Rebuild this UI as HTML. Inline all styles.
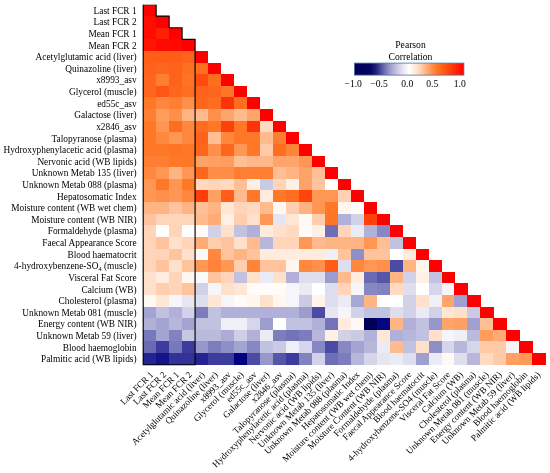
<!DOCTYPE html><html><head><meta charset="utf-8"><title>Pearson Correlation</title>
<style>html,body{margin:0;padding:0;background:#fff}svg{display:block}text{font-family:"Liberation Serif","DejaVu Serif",serif;fill:#000}</style></head><body>
<svg width="550" height="473" viewBox="0 0 550 473">
<rect width="550" height="473" fill="#fff"/>
<defs><linearGradient id="cb" x1="0" x2="1" y1="0" y2="0">
<stop offset="0.000" stop-color="#000055"/>
<stop offset="0.150" stop-color="#050564"/>
<stop offset="0.200" stop-color="#23237d"/>
<stop offset="0.250" stop-color="#5555a0"/>
<stop offset="0.300" stop-color="#8787be"/>
<stop offset="0.350" stop-color="#afacd4"/>
<stop offset="0.400" stop-color="#d0cce6"/>
<stop offset="0.450" stop-color="#ebe8f4"/>
<stop offset="0.500" stop-color="#ffffff"/>
<stop offset="0.550" stop-color="#ffecde"/>
<stop offset="0.600" stop-color="#ffd4b8"/>
<stop offset="0.650" stop-color="#ffb484"/>
<stop offset="0.700" stop-color="#ff9654"/>
<stop offset="0.750" stop-color="#ff7828"/>
<stop offset="0.800" stop-color="#ff621a"/>
<stop offset="0.850" stop-color="#ff4b10"/>
<stop offset="0.900" stop-color="#ff3309"/>
<stop offset="0.950" stop-color="#ff1a03"/>
<stop offset="1.000" stop-color="#ff0000"/>
</linearGradient></defs>
<g shape-rendering="crispEdges">
<rect x="143.20" y="4.50" width="13.27" height="11.92" fill="#ff0000"/>
<rect x="143.20" y="16.12" width="13.27" height="11.92" fill="#ff0d02"/>
<rect x="156.17" y="16.12" width="13.27" height="11.92" fill="#ff0000"/>
<rect x="143.20" y="27.74" width="13.27" height="11.92" fill="#ff0d02"/>
<rect x="156.17" y="27.74" width="13.27" height="11.92" fill="#ff1f04"/>
<rect x="169.14" y="27.74" width="13.27" height="11.92" fill="#ff0000"/>
<rect x="143.20" y="39.36" width="13.27" height="11.92" fill="#ff1502"/>
<rect x="156.17" y="39.36" width="13.27" height="11.92" fill="#ff0a01"/>
<rect x="169.14" y="39.36" width="13.27" height="11.92" fill="#ff0a01"/>
<rect x="182.11" y="39.36" width="13.27" height="11.92" fill="#ff0000"/>
<rect x="143.20" y="50.98" width="13.27" height="11.92" fill="#ff5d18"/>
<rect x="156.17" y="50.98" width="13.27" height="11.92" fill="#ff5d18"/>
<rect x="169.14" y="50.98" width="13.27" height="11.92" fill="#ff5d18"/>
<rect x="182.11" y="50.98" width="13.27" height="11.92" fill="#ff621a"/>
<rect x="195.08" y="50.98" width="13.27" height="11.92" fill="#ff0000"/>
<rect x="143.20" y="62.60" width="13.27" height="11.92" fill="#ff621a"/>
<rect x="156.17" y="62.60" width="13.27" height="11.92" fill="#ff661d"/>
<rect x="169.14" y="62.60" width="13.27" height="11.92" fill="#ff621a"/>
<rect x="182.11" y="62.60" width="13.27" height="11.92" fill="#ff6d21"/>
<rect x="195.08" y="62.60" width="13.27" height="11.92" fill="#ff6d21"/>
<rect x="208.05" y="62.60" width="13.27" height="11.92" fill="#ff0000"/>
<rect x="143.20" y="74.22" width="13.27" height="11.92" fill="#ff661d"/>
<rect x="156.17" y="74.22" width="13.27" height="11.92" fill="#ff7e31"/>
<rect x="169.14" y="74.22" width="13.27" height="11.92" fill="#ff621a"/>
<rect x="182.11" y="74.22" width="13.27" height="11.92" fill="#ff7425"/>
<rect x="195.08" y="74.22" width="13.27" height="11.92" fill="#ff4b10"/>
<rect x="208.05" y="74.22" width="13.27" height="11.92" fill="#ff6d21"/>
<rect x="221.02" y="74.22" width="13.27" height="11.92" fill="#ff0000"/>
<rect x="143.20" y="85.84" width="13.27" height="11.92" fill="#ff661d"/>
<rect x="156.17" y="85.84" width="13.27" height="11.92" fill="#ff5615"/>
<rect x="169.14" y="85.84" width="13.27" height="11.92" fill="#ff661d"/>
<rect x="182.11" y="85.84" width="13.27" height="11.92" fill="#ff6d21"/>
<rect x="195.08" y="85.84" width="13.27" height="11.92" fill="#ff621a"/>
<rect x="208.05" y="85.84" width="13.27" height="11.92" fill="#ff661d"/>
<rect x="221.02" y="85.84" width="13.27" height="11.92" fill="#ff7425"/>
<rect x="233.99" y="85.84" width="13.27" height="11.92" fill="#ff0000"/>
<rect x="143.20" y="97.46" width="13.27" height="11.92" fill="#ff7828"/>
<rect x="156.17" y="97.46" width="13.27" height="11.92" fill="#ff873e"/>
<rect x="169.14" y="97.46" width="13.27" height="11.92" fill="#ff7e31"/>
<rect x="182.11" y="97.46" width="13.27" height="11.92" fill="#ff904b"/>
<rect x="195.08" y="97.46" width="13.27" height="11.92" fill="#ff661d"/>
<rect x="208.05" y="97.46" width="13.27" height="11.92" fill="#ff6d21"/>
<rect x="221.02" y="97.46" width="13.27" height="11.92" fill="#ff3309"/>
<rect x="233.99" y="97.46" width="13.27" height="11.92" fill="#ff6d21"/>
<rect x="246.96" y="97.46" width="13.27" height="11.92" fill="#ff0000"/>
<rect x="143.20" y="109.08" width="13.27" height="11.92" fill="#ff7e31"/>
<rect x="156.17" y="109.08" width="13.27" height="11.92" fill="#ff9c5e"/>
<rect x="169.14" y="109.08" width="13.27" height="11.92" fill="#ff904b"/>
<rect x="182.11" y="109.08" width="13.27" height="11.92" fill="#ffb484"/>
<rect x="195.08" y="109.08" width="13.27" height="11.92" fill="#ffba8e"/>
<rect x="208.05" y="109.08" width="13.27" height="11.92" fill="#ff904b"/>
<rect x="221.02" y="109.08" width="13.27" height="11.92" fill="#ffa56c"/>
<rect x="233.99" y="109.08" width="13.27" height="11.92" fill="#ffba8e"/>
<rect x="246.96" y="109.08" width="13.27" height="11.92" fill="#ffa56c"/>
<rect x="259.93" y="109.08" width="13.27" height="11.92" fill="#ff0000"/>
<rect x="143.20" y="120.70" width="13.27" height="11.92" fill="#ff7828"/>
<rect x="156.17" y="120.70" width="13.27" height="11.92" fill="#ff9654"/>
<rect x="169.14" y="120.70" width="13.27" height="11.92" fill="#ff6d21"/>
<rect x="182.11" y="120.70" width="13.27" height="11.92" fill="#ff873e"/>
<rect x="195.08" y="120.70" width="13.27" height="11.92" fill="#ff6d21"/>
<rect x="208.05" y="120.70" width="13.27" height="11.92" fill="#ff7828"/>
<rect x="221.02" y="120.70" width="13.27" height="11.92" fill="#ff3f0c"/>
<rect x="233.99" y="120.70" width="13.27" height="11.92" fill="#ff7828"/>
<rect x="246.96" y="120.70" width="13.27" height="11.92" fill="#ff3309"/>
<rect x="259.93" y="120.70" width="13.27" height="11.92" fill="#ffd9c0"/>
<rect x="272.90" y="120.70" width="13.27" height="11.92" fill="#ff0000"/>
<rect x="143.20" y="132.32" width="13.27" height="11.92" fill="#ff7828"/>
<rect x="156.17" y="132.32" width="13.27" height="11.92" fill="#ff873e"/>
<rect x="169.14" y="132.32" width="13.27" height="11.92" fill="#ff9654"/>
<rect x="182.11" y="132.32" width="13.27" height="11.92" fill="#ff873e"/>
<rect x="195.08" y="132.32" width="13.27" height="11.92" fill="#ff621a"/>
<rect x="208.05" y="132.32" width="13.27" height="11.92" fill="#ffbe94"/>
<rect x="221.02" y="132.32" width="13.27" height="11.92" fill="#ff873e"/>
<rect x="233.99" y="132.32" width="13.27" height="11.92" fill="#ff7828"/>
<rect x="246.96" y="132.32" width="13.27" height="11.92" fill="#ff7828"/>
<rect x="259.93" y="132.32" width="13.27" height="11.92" fill="#ffba8e"/>
<rect x="272.90" y="132.32" width="13.27" height="11.92" fill="#ff7e31"/>
<rect x="285.87" y="132.32" width="13.27" height="11.92" fill="#ff0000"/>
<rect x="143.20" y="143.94" width="13.27" height="11.92" fill="#ff7828"/>
<rect x="156.17" y="143.94" width="13.27" height="11.92" fill="#ff7828"/>
<rect x="169.14" y="143.94" width="13.27" height="11.92" fill="#ff7425"/>
<rect x="182.11" y="143.94" width="13.27" height="11.92" fill="#ff7828"/>
<rect x="195.08" y="143.94" width="13.27" height="11.92" fill="#ff661d"/>
<rect x="208.05" y="143.94" width="13.27" height="11.92" fill="#ff904b"/>
<rect x="221.02" y="143.94" width="13.27" height="11.92" fill="#ff661d"/>
<rect x="233.99" y="143.94" width="13.27" height="11.92" fill="#ff9654"/>
<rect x="246.96" y="143.94" width="13.27" height="11.92" fill="#ff7828"/>
<rect x="259.93" y="143.94" width="13.27" height="11.92" fill="#ffcaa8"/>
<rect x="272.90" y="143.94" width="13.27" height="11.92" fill="#ff6d21"/>
<rect x="285.87" y="143.94" width="13.27" height="11.92" fill="#ff843a"/>
<rect x="298.84" y="143.94" width="13.27" height="11.92" fill="#ff0000"/>
<rect x="143.20" y="155.56" width="13.27" height="11.92" fill="#ff7e31"/>
<rect x="156.17" y="155.56" width="13.27" height="11.92" fill="#ff7e31"/>
<rect x="169.14" y="155.56" width="13.27" height="11.92" fill="#ff7828"/>
<rect x="182.11" y="155.56" width="13.27" height="11.92" fill="#ff7828"/>
<rect x="195.08" y="155.56" width="13.27" height="11.92" fill="#ffa267"/>
<rect x="208.05" y="155.56" width="13.27" height="11.92" fill="#ff9f62"/>
<rect x="221.02" y="155.56" width="13.27" height="11.92" fill="#ff9c5e"/>
<rect x="233.99" y="155.56" width="13.27" height="11.92" fill="#ffbe94"/>
<rect x="246.96" y="155.56" width="13.27" height="11.92" fill="#ffb789"/>
<rect x="259.93" y="155.56" width="13.27" height="11.92" fill="#ffb789"/>
<rect x="272.90" y="155.56" width="13.27" height="11.92" fill="#ffa56c"/>
<rect x="285.87" y="155.56" width="13.27" height="11.92" fill="#ffa56c"/>
<rect x="298.84" y="155.56" width="13.27" height="11.92" fill="#ff9654"/>
<rect x="311.81" y="155.56" width="13.27" height="11.92" fill="#ff0000"/>
<rect x="143.20" y="167.18" width="13.27" height="11.92" fill="#ff873e"/>
<rect x="156.17" y="167.18" width="13.27" height="11.92" fill="#ff9654"/>
<rect x="169.14" y="167.18" width="13.27" height="11.92" fill="#ffb484"/>
<rect x="182.11" y="167.18" width="13.27" height="11.92" fill="#ff9654"/>
<rect x="195.08" y="167.18" width="13.27" height="11.92" fill="#ff661d"/>
<rect x="208.05" y="167.18" width="13.27" height="11.92" fill="#ff8d47"/>
<rect x="221.02" y="167.18" width="13.27" height="11.92" fill="#ff8d47"/>
<rect x="233.99" y="167.18" width="13.27" height="11.92" fill="#ff7e31"/>
<rect x="246.96" y="167.18" width="13.27" height="11.92" fill="#ff7e31"/>
<rect x="259.93" y="167.18" width="13.27" height="11.92" fill="#ff7e31"/>
<rect x="272.90" y="167.18" width="13.27" height="11.92" fill="#ffbe94"/>
<rect x="285.87" y="167.18" width="13.27" height="11.92" fill="#ffb484"/>
<rect x="298.84" y="167.18" width="13.27" height="11.92" fill="#ffa267"/>
<rect x="311.81" y="167.18" width="13.27" height="11.92" fill="#ffbe94"/>
<rect x="324.78" y="167.18" width="13.27" height="11.92" fill="#ff0000"/>
<rect x="143.20" y="178.80" width="13.27" height="11.92" fill="#ff9654"/>
<rect x="156.17" y="178.80" width="13.27" height="11.92" fill="#ff7828"/>
<rect x="169.14" y="178.80" width="13.27" height="11.92" fill="#ff9654"/>
<rect x="182.11" y="178.80" width="13.27" height="11.92" fill="#ff7828"/>
<rect x="195.08" y="178.80" width="13.27" height="11.92" fill="#ffd9c0"/>
<rect x="208.05" y="178.80" width="13.27" height="11.92" fill="#ffd4b8"/>
<rect x="221.02" y="178.80" width="13.27" height="11.92" fill="#ffd9c0"/>
<rect x="233.99" y="178.80" width="13.27" height="11.92" fill="#ffbe94"/>
<rect x="246.96" y="178.80" width="13.27" height="11.92" fill="#fff0e5"/>
<rect x="259.93" y="178.80" width="13.27" height="11.92" fill="#cacae5"/>
<rect x="272.90" y="178.80" width="13.27" height="11.92" fill="#ffd4b8"/>
<rect x="285.87" y="178.80" width="13.27" height="11.92" fill="#fff0e5"/>
<rect x="298.84" y="178.80" width="13.27" height="11.92" fill="#ffa267"/>
<rect x="311.81" y="178.80" width="13.27" height="11.92" fill="#ffc49e"/>
<rect x="324.78" y="178.80" width="13.27" height="11.92" fill="#ffffff"/>
<rect x="337.75" y="178.80" width="13.27" height="11.92" fill="#ff0000"/>
<rect x="143.20" y="190.42" width="13.27" height="11.92" fill="#ff9654"/>
<rect x="156.17" y="190.42" width="13.27" height="11.92" fill="#ff904b"/>
<rect x="169.14" y="190.42" width="13.27" height="11.92" fill="#ff9654"/>
<rect x="182.11" y="190.42" width="13.27" height="11.92" fill="#ff873e"/>
<rect x="195.08" y="190.42" width="13.27" height="11.92" fill="#ff3d0c"/>
<rect x="208.05" y="190.42" width="13.27" height="11.92" fill="#ff9f62"/>
<rect x="221.02" y="190.42" width="13.27" height="11.92" fill="#ff5d18"/>
<rect x="233.99" y="190.42" width="13.27" height="11.92" fill="#ffba8e"/>
<rect x="246.96" y="190.42" width="13.27" height="11.92" fill="#ff7828"/>
<rect x="259.93" y="190.42" width="13.27" height="11.92" fill="#ffecde"/>
<rect x="272.90" y="190.42" width="13.27" height="11.92" fill="#ff7828"/>
<rect x="285.87" y="190.42" width="13.27" height="11.92" fill="#ff6d21"/>
<rect x="298.84" y="190.42" width="13.27" height="11.92" fill="#ff440e"/>
<rect x="311.81" y="190.42" width="13.27" height="11.92" fill="#ff9654"/>
<rect x="324.78" y="190.42" width="13.27" height="11.92" fill="#ff9654"/>
<rect x="337.75" y="190.42" width="13.27" height="11.92" fill="#ffd1b3"/>
<rect x="350.72" y="190.42" width="13.27" height="11.92" fill="#ff0000"/>
<rect x="143.20" y="202.04" width="13.27" height="11.92" fill="#ffb484"/>
<rect x="156.17" y="202.04" width="13.27" height="11.92" fill="#ffb484"/>
<rect x="169.14" y="202.04" width="13.27" height="11.92" fill="#ffc49e"/>
<rect x="182.11" y="202.04" width="13.27" height="11.92" fill="#ffb484"/>
<rect x="195.08" y="202.04" width="13.27" height="11.92" fill="#ffbe94"/>
<rect x="208.05" y="202.04" width="13.27" height="11.92" fill="#ffb484"/>
<rect x="221.02" y="202.04" width="13.27" height="11.92" fill="#ffe7d6"/>
<rect x="233.99" y="202.04" width="13.27" height="11.92" fill="#ffd4b8"/>
<rect x="246.96" y="202.04" width="13.27" height="11.92" fill="#ffd9c0"/>
<rect x="259.93" y="202.04" width="13.27" height="11.92" fill="#ffba8e"/>
<rect x="272.90" y="202.04" width="13.27" height="11.92" fill="#fff7f2"/>
<rect x="285.87" y="202.04" width="13.27" height="11.92" fill="#ffceae"/>
<rect x="298.84" y="202.04" width="13.27" height="11.92" fill="#ffb17f"/>
<rect x="311.81" y="202.04" width="13.27" height="11.92" fill="#ff9654"/>
<rect x="324.78" y="202.04" width="13.27" height="11.92" fill="#ff7828"/>
<rect x="337.75" y="202.04" width="13.27" height="11.92" fill="#fff6ee"/>
<rect x="350.72" y="202.04" width="13.27" height="11.92" fill="#fffbf8"/>
<rect x="363.69" y="202.04" width="13.27" height="11.92" fill="#ff0000"/>
<rect x="143.20" y="213.66" width="13.27" height="11.92" fill="#ffc49e"/>
<rect x="156.17" y="213.66" width="13.27" height="11.92" fill="#ffd4b8"/>
<rect x="169.14" y="213.66" width="13.27" height="11.92" fill="#ffd4b8"/>
<rect x="182.11" y="213.66" width="13.27" height="11.92" fill="#ffd4b8"/>
<rect x="195.08" y="213.66" width="13.27" height="11.92" fill="#ffba8e"/>
<rect x="208.05" y="213.66" width="13.27" height="11.92" fill="#ffab76"/>
<rect x="221.02" y="213.66" width="13.27" height="11.92" fill="#fff0e5"/>
<rect x="233.99" y="213.66" width="13.27" height="11.92" fill="#ffceae"/>
<rect x="246.96" y="213.66" width="13.27" height="11.92" fill="#ffe0cb"/>
<rect x="259.93" y="213.66" width="13.27" height="11.92" fill="#ff9654"/>
<rect x="272.90" y="213.66" width="13.27" height="11.92" fill="#e6e6f2"/>
<rect x="285.87" y="213.66" width="13.27" height="11.92" fill="#ffe7d6"/>
<rect x="298.84" y="213.66" width="13.27" height="11.92" fill="#fff9f5"/>
<rect x="311.81" y="213.66" width="13.27" height="11.92" fill="#ffceae"/>
<rect x="324.78" y="213.66" width="13.27" height="11.92" fill="#ff7425"/>
<rect x="337.75" y="213.66" width="13.27" height="11.92" fill="#b0b0d8"/>
<rect x="350.72" y="213.66" width="13.27" height="11.92" fill="#d1d1e8"/>
<rect x="363.69" y="213.66" width="13.27" height="11.92" fill="#ff3f0c"/>
<rect x="376.66" y="213.66" width="13.27" height="11.92" fill="#ff0000"/>
<rect x="143.20" y="225.28" width="13.27" height="11.92" fill="#ffd4b8"/>
<rect x="156.17" y="225.28" width="13.27" height="11.92" fill="#ffffff"/>
<rect x="169.14" y="225.28" width="13.27" height="11.92" fill="#ffd4b8"/>
<rect x="182.11" y="225.28" width="13.27" height="11.92" fill="#ffffff"/>
<rect x="195.08" y="225.28" width="13.27" height="11.92" fill="#fffbf8"/>
<rect x="208.05" y="225.28" width="13.27" height="11.92" fill="#d1d1e8"/>
<rect x="221.02" y="225.28" width="13.27" height="11.92" fill="#ffe0cb"/>
<rect x="233.99" y="225.28" width="13.27" height="11.92" fill="#c1c1e0"/>
<rect x="246.96" y="225.28" width="13.27" height="11.92" fill="#b0b0d8"/>
<rect x="259.93" y="225.28" width="13.27" height="11.92" fill="#ffecde"/>
<rect x="272.90" y="225.28" width="13.27" height="11.92" fill="#ffe0cb"/>
<rect x="285.87" y="225.28" width="13.27" height="11.92" fill="#ffd9c0"/>
<rect x="298.84" y="225.28" width="13.27" height="11.92" fill="#fffbf8"/>
<rect x="311.81" y="225.28" width="13.27" height="11.92" fill="#fff0e5"/>
<rect x="324.78" y="225.28" width="13.27" height="11.92" fill="#6e6eb7"/>
<rect x="337.75" y="225.28" width="13.27" height="11.92" fill="#ffd4b8"/>
<rect x="350.72" y="225.28" width="13.27" height="11.92" fill="#ebebf5"/>
<rect x="363.69" y="225.28" width="13.27" height="11.92" fill="#b0b0d8"/>
<rect x="376.66" y="225.28" width="13.27" height="11.92" fill="#8787c3"/>
<rect x="389.63" y="225.28" width="13.27" height="11.92" fill="#ff0000"/>
<rect x="143.20" y="236.90" width="13.27" height="11.92" fill="#ffd4b8"/>
<rect x="156.17" y="236.90" width="13.27" height="11.92" fill="#ffc49e"/>
<rect x="169.14" y="236.90" width="13.27" height="11.92" fill="#ffe0cb"/>
<rect x="182.11" y="236.90" width="13.27" height="11.92" fill="#ffd4b8"/>
<rect x="195.08" y="236.90" width="13.27" height="11.92" fill="#ffab76"/>
<rect x="208.05" y="236.90" width="13.27" height="11.92" fill="#ffceae"/>
<rect x="221.02" y="236.90" width="13.27" height="11.92" fill="#ffc49e"/>
<rect x="233.99" y="236.90" width="13.27" height="11.92" fill="#ffe0cb"/>
<rect x="246.96" y="236.90" width="13.27" height="11.92" fill="#ffba8e"/>
<rect x="259.93" y="236.90" width="13.27" height="11.92" fill="#b7b7db"/>
<rect x="272.90" y="236.90" width="13.27" height="11.92" fill="#ffd4b8"/>
<rect x="285.87" y="236.90" width="13.27" height="11.92" fill="#ffd4b8"/>
<rect x="298.84" y="236.90" width="13.27" height="11.92" fill="#ff9654"/>
<rect x="311.81" y="236.90" width="13.27" height="11.92" fill="#ffba8e"/>
<rect x="324.78" y="236.90" width="13.27" height="11.92" fill="#ffb484"/>
<rect x="337.75" y="236.90" width="13.27" height="11.92" fill="#ffb484"/>
<rect x="350.72" y="236.90" width="13.27" height="11.92" fill="#ffb484"/>
<rect x="363.69" y="236.90" width="13.27" height="11.92" fill="#ff9654"/>
<rect x="376.66" y="236.90" width="13.27" height="11.92" fill="#ffbe94"/>
<rect x="389.63" y="236.90" width="13.27" height="11.92" fill="#c1c1e0"/>
<rect x="402.60" y="236.90" width="13.27" height="11.92" fill="#ff0000"/>
<rect x="143.20" y="248.52" width="13.27" height="11.92" fill="#ffd4b8"/>
<rect x="156.17" y="248.52" width="13.27" height="11.92" fill="#ffd4b8"/>
<rect x="169.14" y="248.52" width="13.27" height="11.92" fill="#ffc49e"/>
<rect x="182.11" y="248.52" width="13.27" height="11.92" fill="#ffe0cb"/>
<rect x="195.08" y="248.52" width="13.27" height="11.92" fill="#f9f9fc"/>
<rect x="208.05" y="248.52" width="13.27" height="11.92" fill="#ff873e"/>
<rect x="221.02" y="248.52" width="13.27" height="11.92" fill="#ffc49e"/>
<rect x="233.99" y="248.52" width="13.27" height="11.92" fill="#ffb484"/>
<rect x="246.96" y="248.52" width="13.27" height="11.92" fill="#ffc49e"/>
<rect x="259.93" y="248.52" width="13.27" height="11.92" fill="#ffecde"/>
<rect x="272.90" y="248.52" width="13.27" height="11.92" fill="#ffecde"/>
<rect x="285.87" y="248.52" width="13.27" height="11.92" fill="#ffecde"/>
<rect x="298.84" y="248.52" width="13.27" height="11.92" fill="#ffecde"/>
<rect x="311.81" y="248.52" width="13.27" height="11.92" fill="#ffecde"/>
<rect x="324.78" y="248.52" width="13.27" height="11.92" fill="#efeff7"/>
<rect x="337.75" y="248.52" width="13.27" height="11.92" fill="#ffc49e"/>
<rect x="350.72" y="248.52" width="13.27" height="11.92" fill="#8f8fc7"/>
<rect x="363.69" y="248.52" width="13.27" height="11.92" fill="#ffc49e"/>
<rect x="376.66" y="248.52" width="13.27" height="11.92" fill="#ffc49e"/>
<rect x="389.63" y="248.52" width="13.27" height="11.92" fill="#ffffff"/>
<rect x="402.60" y="248.52" width="13.27" height="11.92" fill="#ffecde"/>
<rect x="415.57" y="248.52" width="13.27" height="11.92" fill="#ff0000"/>
<rect x="143.20" y="260.14" width="13.27" height="11.92" fill="#ffd4b8"/>
<rect x="156.17" y="260.14" width="13.27" height="11.92" fill="#ffc49e"/>
<rect x="169.14" y="260.14" width="13.27" height="11.92" fill="#ffe0cb"/>
<rect x="182.11" y="260.14" width="13.27" height="11.92" fill="#ffc49e"/>
<rect x="195.08" y="260.14" width="13.27" height="11.92" fill="#ff9654"/>
<rect x="208.05" y="260.14" width="13.27" height="11.92" fill="#ff843a"/>
<rect x="221.02" y="260.14" width="13.27" height="11.92" fill="#ff9654"/>
<rect x="233.99" y="260.14" width="13.27" height="11.92" fill="#ffceae"/>
<rect x="246.96" y="260.14" width="13.27" height="11.92" fill="#ff843a"/>
<rect x="259.93" y="260.14" width="13.27" height="11.92" fill="#ffc49e"/>
<rect x="272.90" y="260.14" width="13.27" height="11.92" fill="#ffc49e"/>
<rect x="285.87" y="260.14" width="13.27" height="11.92" fill="#fff6ee"/>
<rect x="298.84" y="260.14" width="13.27" height="11.92" fill="#ff873e"/>
<rect x="311.81" y="260.14" width="13.27" height="11.92" fill="#ff904b"/>
<rect x="324.78" y="260.14" width="13.27" height="11.92" fill="#ff5d18"/>
<rect x="337.75" y="260.14" width="13.27" height="11.92" fill="#dedeee"/>
<rect x="350.72" y="260.14" width="13.27" height="11.92" fill="#ff873e"/>
<rect x="363.69" y="260.14" width="13.27" height="11.92" fill="#ff9654"/>
<rect x="376.66" y="260.14" width="13.27" height="11.92" fill="#ff904b"/>
<rect x="389.63" y="260.14" width="13.27" height="11.92" fill="#4b4ba5"/>
<rect x="402.60" y="260.14" width="13.27" height="11.92" fill="#ffb484"/>
<rect x="415.57" y="260.14" width="13.27" height="11.92" fill="#fff6ee"/>
<rect x="428.54" y="260.14" width="13.27" height="11.92" fill="#ff0000"/>
<rect x="143.20" y="271.76" width="13.27" height="11.92" fill="#ffe0cb"/>
<rect x="156.17" y="271.76" width="13.27" height="11.92" fill="#ffecde"/>
<rect x="169.14" y="271.76" width="13.27" height="11.92" fill="#ffd4b8"/>
<rect x="182.11" y="271.76" width="13.27" height="11.92" fill="#fff6ee"/>
<rect x="195.08" y="271.76" width="13.27" height="11.92" fill="#f9f9fc"/>
<rect x="208.05" y="271.76" width="13.27" height="11.92" fill="#ffc49e"/>
<rect x="221.02" y="271.76" width="13.27" height="11.92" fill="#ffd4b8"/>
<rect x="233.99" y="271.76" width="13.27" height="11.92" fill="#c1c1e0"/>
<rect x="246.96" y="271.76" width="13.27" height="11.92" fill="#ffe0cb"/>
<rect x="259.93" y="271.76" width="13.27" height="11.92" fill="#ebebf5"/>
<rect x="272.90" y="271.76" width="13.27" height="11.92" fill="#ffe0cb"/>
<rect x="285.87" y="271.76" width="13.27" height="11.92" fill="#b0b0d8"/>
<rect x="298.84" y="271.76" width="13.27" height="11.92" fill="#dedeee"/>
<rect x="311.81" y="271.76" width="13.27" height="11.92" fill="#dedeee"/>
<rect x="324.78" y="271.76" width="13.27" height="11.92" fill="#9c9ccd"/>
<rect x="337.75" y="271.76" width="13.27" height="11.92" fill="#ffba8e"/>
<rect x="350.72" y="271.76" width="13.27" height="11.92" fill="#ffecde"/>
<rect x="363.69" y="271.76" width="13.27" height="11.92" fill="#6969b4"/>
<rect x="376.66" y="271.76" width="13.27" height="11.92" fill="#5555aa"/>
<rect x="389.63" y="271.76" width="13.27" height="11.92" fill="#ffb484"/>
<rect x="402.60" y="271.76" width="13.27" height="11.92" fill="#d1d1e8"/>
<rect x="415.57" y="271.76" width="13.27" height="11.92" fill="#fff0e5"/>
<rect x="428.54" y="271.76" width="13.27" height="11.92" fill="#c1c1e0"/>
<rect x="441.51" y="271.76" width="13.27" height="11.92" fill="#ff0000"/>
<rect x="143.20" y="283.38" width="13.27" height="11.92" fill="#ffe0cb"/>
<rect x="156.17" y="283.38" width="13.27" height="11.92" fill="#ffceae"/>
<rect x="169.14" y="283.38" width="13.27" height="11.92" fill="#ffd4b8"/>
<rect x="182.11" y="283.38" width="13.27" height="11.92" fill="#ffc49e"/>
<rect x="195.08" y="283.38" width="13.27" height="11.92" fill="#d1d1e8"/>
<rect x="208.05" y="283.38" width="13.27" height="11.92" fill="#f5f5fa"/>
<rect x="221.02" y="283.38" width="13.27" height="11.92" fill="#ffe0cb"/>
<rect x="233.99" y="283.38" width="13.27" height="11.92" fill="#ffe7d6"/>
<rect x="246.96" y="283.38" width="13.27" height="11.92" fill="#fffbf8"/>
<rect x="259.93" y="283.38" width="13.27" height="11.92" fill="#fffbf8"/>
<rect x="272.90" y="283.38" width="13.27" height="11.92" fill="#fffbf8"/>
<rect x="285.87" y="283.38" width="13.27" height="11.92" fill="#f5f5fa"/>
<rect x="298.84" y="283.38" width="13.27" height="11.92" fill="#ebebf5"/>
<rect x="311.81" y="283.38" width="13.27" height="11.92" fill="#ffffff"/>
<rect x="324.78" y="283.38" width="13.27" height="11.92" fill="#dedeee"/>
<rect x="337.75" y="283.38" width="13.27" height="11.92" fill="#ffd4b8"/>
<rect x="350.72" y="283.38" width="13.27" height="11.92" fill="#f5f5fa"/>
<rect x="363.69" y="283.38" width="13.27" height="11.92" fill="#8787c3"/>
<rect x="376.66" y="283.38" width="13.27" height="11.92" fill="#8282c1"/>
<rect x="389.63" y="283.38" width="13.27" height="11.92" fill="#ffd9c0"/>
<rect x="402.60" y="283.38" width="13.27" height="11.92" fill="#dedeee"/>
<rect x="415.57" y="283.38" width="13.27" height="11.92" fill="#ffffff"/>
<rect x="428.54" y="283.38" width="13.27" height="11.92" fill="#d6d6eb"/>
<rect x="441.51" y="283.38" width="13.27" height="11.92" fill="#f5f5fa"/>
<rect x="454.48" y="283.38" width="13.27" height="11.92" fill="#ff0000"/>
<rect x="143.20" y="295.00" width="13.27" height="11.92" fill="#fff9f5"/>
<rect x="156.17" y="295.00" width="13.27" height="11.92" fill="#ffe7d6"/>
<rect x="169.14" y="295.00" width="13.27" height="11.92" fill="#f5f5fa"/>
<rect x="182.11" y="295.00" width="13.27" height="11.92" fill="#e6e6f2"/>
<rect x="195.08" y="295.00" width="13.27" height="11.92" fill="#dedeee"/>
<rect x="208.05" y="295.00" width="13.27" height="11.92" fill="#ffe7d6"/>
<rect x="221.02" y="295.00" width="13.27" height="11.92" fill="#f5f5fa"/>
<rect x="233.99" y="295.00" width="13.27" height="11.92" fill="#fffbf8"/>
<rect x="246.96" y="295.00" width="13.27" height="11.92" fill="#fff6ee"/>
<rect x="259.93" y="295.00" width="13.27" height="11.92" fill="#ffe0cb"/>
<rect x="272.90" y="295.00" width="13.27" height="11.92" fill="#fff6ee"/>
<rect x="285.87" y="295.00" width="13.27" height="11.92" fill="#f5f5fa"/>
<rect x="298.84" y="295.00" width="13.27" height="11.92" fill="#cacae5"/>
<rect x="311.81" y="295.00" width="13.27" height="11.92" fill="#fff4eb"/>
<rect x="324.78" y="295.00" width="13.27" height="11.92" fill="#dedeee"/>
<rect x="337.75" y="295.00" width="13.27" height="11.92" fill="#ebebf5"/>
<rect x="350.72" y="295.00" width="13.27" height="11.92" fill="#a8a8d4"/>
<rect x="363.69" y="295.00" width="13.27" height="11.92" fill="#ffb484"/>
<rect x="376.66" y="295.00" width="13.27" height="11.92" fill="#ffffff"/>
<rect x="389.63" y="295.00" width="13.27" height="11.92" fill="#ffffff"/>
<rect x="402.60" y="295.00" width="13.27" height="11.92" fill="#d1d1e8"/>
<rect x="415.57" y="295.00" width="13.27" height="11.92" fill="#ffe0cb"/>
<rect x="428.54" y="295.00" width="13.27" height="11.92" fill="#efeff7"/>
<rect x="441.51" y="295.00" width="13.27" height="11.92" fill="#ffa56c"/>
<rect x="454.48" y="295.00" width="13.27" height="11.92" fill="#a0a0d0"/>
<rect x="467.45" y="295.00" width="13.27" height="11.92" fill="#ff0000"/>
<rect x="143.20" y="306.62" width="13.27" height="11.92" fill="#a4a4d2"/>
<rect x="156.17" y="306.62" width="13.27" height="11.92" fill="#c1c1e0"/>
<rect x="169.14" y="306.62" width="13.27" height="11.92" fill="#b0b0d8"/>
<rect x="182.11" y="306.62" width="13.27" height="11.92" fill="#d1d1e8"/>
<rect x="195.08" y="306.62" width="13.27" height="11.92" fill="#7d7dbe"/>
<rect x="208.05" y="306.62" width="13.27" height="11.92" fill="#c1c1e0"/>
<rect x="221.02" y="306.62" width="13.27" height="11.92" fill="#b0b0d8"/>
<rect x="233.99" y="306.62" width="13.27" height="11.92" fill="#b0b0d8"/>
<rect x="246.96" y="306.62" width="13.27" height="11.92" fill="#b0b0d8"/>
<rect x="259.93" y="306.62" width="13.27" height="11.92" fill="#b0b0d8"/>
<rect x="272.90" y="306.62" width="13.27" height="11.92" fill="#b0b0d8"/>
<rect x="285.87" y="306.62" width="13.27" height="11.92" fill="#b0b0d8"/>
<rect x="298.84" y="306.62" width="13.27" height="11.92" fill="#9c9ccd"/>
<rect x="311.81" y="306.62" width="13.27" height="11.92" fill="#4b4ba5"/>
<rect x="324.78" y="306.62" width="13.27" height="11.92" fill="#e6e6f2"/>
<rect x="337.75" y="306.62" width="13.27" height="11.92" fill="#f5f5fa"/>
<rect x="350.72" y="306.62" width="13.27" height="11.92" fill="#d1d1e8"/>
<rect x="363.69" y="306.62" width="13.27" height="11.92" fill="#c1c1e0"/>
<rect x="376.66" y="306.62" width="13.27" height="11.92" fill="#c1c1e0"/>
<rect x="389.63" y="306.62" width="13.27" height="11.92" fill="#dedeee"/>
<rect x="402.60" y="306.62" width="13.27" height="11.92" fill="#d1d1e8"/>
<rect x="415.57" y="306.62" width="13.27" height="11.92" fill="#ebebf5"/>
<rect x="428.54" y="306.62" width="13.27" height="11.92" fill="#d1d1e8"/>
<rect x="441.51" y="306.62" width="13.27" height="11.92" fill="#ffe7d6"/>
<rect x="454.48" y="306.62" width="13.27" height="11.92" fill="#ffe0cb"/>
<rect x="467.45" y="306.62" width="13.27" height="11.92" fill="#cacae5"/>
<rect x="480.42" y="306.62" width="13.27" height="11.92" fill="#ff0000"/>
<rect x="143.20" y="318.24" width="13.27" height="11.92" fill="#b0b0d8"/>
<rect x="156.17" y="318.24" width="13.27" height="11.92" fill="#a4a4d2"/>
<rect x="169.14" y="318.24" width="13.27" height="11.92" fill="#b7b7db"/>
<rect x="182.11" y="318.24" width="13.27" height="11.92" fill="#a4a4d2"/>
<rect x="195.08" y="318.24" width="13.27" height="11.92" fill="#c1c1e0"/>
<rect x="208.05" y="318.24" width="13.27" height="11.92" fill="#c1c1e0"/>
<rect x="221.02" y="318.24" width="13.27" height="11.92" fill="#efeff7"/>
<rect x="233.99" y="318.24" width="13.27" height="11.92" fill="#efeff7"/>
<rect x="246.96" y="318.24" width="13.27" height="11.92" fill="#d6d6eb"/>
<rect x="259.93" y="318.24" width="13.27" height="11.92" fill="#9c9ccd"/>
<rect x="272.90" y="318.24" width="13.27" height="11.92" fill="#ffffff"/>
<rect x="285.87" y="318.24" width="13.27" height="11.92" fill="#c1c1e0"/>
<rect x="298.84" y="318.24" width="13.27" height="11.92" fill="#c1c1e0"/>
<rect x="311.81" y="318.24" width="13.27" height="11.92" fill="#b0b0d8"/>
<rect x="324.78" y="318.24" width="13.27" height="11.92" fill="#7373b9"/>
<rect x="337.75" y="318.24" width="13.27" height="11.92" fill="#ffecde"/>
<rect x="350.72" y="318.24" width="13.27" height="11.92" fill="#fff9f5"/>
<rect x="363.69" y="318.24" width="13.27" height="11.92" fill="#00005a"/>
<rect x="376.66" y="318.24" width="13.27" height="11.92" fill="#050583"/>
<rect x="389.63" y="318.24" width="13.27" height="11.92" fill="#ffb484"/>
<rect x="402.60" y="318.24" width="13.27" height="11.92" fill="#b0b0d8"/>
<rect x="415.57" y="318.24" width="13.27" height="11.92" fill="#c1c1e0"/>
<rect x="428.54" y="318.24" width="13.27" height="11.92" fill="#9797cb"/>
<rect x="441.51" y="318.24" width="13.27" height="11.92" fill="#ffa56c"/>
<rect x="454.48" y="318.24" width="13.27" height="11.92" fill="#ff9f62"/>
<rect x="467.45" y="318.24" width="13.27" height="11.92" fill="#a0a0d0"/>
<rect x="480.42" y="318.24" width="13.27" height="11.92" fill="#ffbe94"/>
<rect x="493.39" y="318.24" width="13.27" height="11.92" fill="#ff0000"/>
<rect x="143.20" y="329.86" width="13.27" height="11.92" fill="#7878bc"/>
<rect x="156.17" y="329.86" width="13.27" height="11.92" fill="#a4a4d2"/>
<rect x="169.14" y="329.86" width="13.27" height="11.92" fill="#8282c1"/>
<rect x="182.11" y="329.86" width="13.27" height="11.92" fill="#c7c7e3"/>
<rect x="195.08" y="329.86" width="13.27" height="11.92" fill="#babadd"/>
<rect x="208.05" y="329.86" width="13.27" height="11.92" fill="#babadd"/>
<rect x="221.02" y="329.86" width="13.27" height="11.92" fill="#acacd6"/>
<rect x="233.99" y="329.86" width="13.27" height="11.92" fill="#cecee6"/>
<rect x="246.96" y="329.86" width="13.27" height="11.92" fill="#b0b0d8"/>
<rect x="259.93" y="329.86" width="13.27" height="11.92" fill="#ebebf5"/>
<rect x="272.90" y="329.86" width="13.27" height="11.92" fill="#7d7dbe"/>
<rect x="285.87" y="329.86" width="13.27" height="11.92" fill="#7373b9"/>
<rect x="298.84" y="329.86" width="13.27" height="11.92" fill="#7d7dbe"/>
<rect x="311.81" y="329.86" width="13.27" height="11.92" fill="#b7b7db"/>
<rect x="324.78" y="329.86" width="13.27" height="11.92" fill="#fff0e5"/>
<rect x="337.75" y="329.86" width="13.27" height="11.92" fill="#d1d1e8"/>
<rect x="350.72" y="329.86" width="13.27" height="11.92" fill="#cacae5"/>
<rect x="363.69" y="329.86" width="13.27" height="11.92" fill="#b0b0d8"/>
<rect x="376.66" y="329.86" width="13.27" height="11.92" fill="#ffe7d6"/>
<rect x="389.63" y="329.86" width="13.27" height="11.92" fill="#b0b0d8"/>
<rect x="402.60" y="329.86" width="13.27" height="11.92" fill="#b7b7db"/>
<rect x="415.57" y="329.86" width="13.27" height="11.92" fill="#c1c1e0"/>
<rect x="428.54" y="329.86" width="13.27" height="11.92" fill="#ffe0cb"/>
<rect x="441.51" y="329.86" width="13.27" height="11.92" fill="#f5f5fa"/>
<rect x="454.48" y="329.86" width="13.27" height="11.92" fill="#efeff7"/>
<rect x="467.45" y="329.86" width="13.27" height="11.92" fill="#babadd"/>
<rect x="480.42" y="329.86" width="13.27" height="11.92" fill="#ff9c5e"/>
<rect x="493.39" y="329.86" width="13.27" height="11.92" fill="#ffab76"/>
<rect x="506.36" y="329.86" width="13.27" height="11.92" fill="#ff0000"/>
<rect x="143.20" y="341.48" width="13.27" height="11.92" fill="#6969b4"/>
<rect x="156.17" y="341.48" width="13.27" height="11.92" fill="#3c3c9e"/>
<rect x="169.14" y="341.48" width="13.27" height="11.92" fill="#7878bc"/>
<rect x="182.11" y="341.48" width="13.27" height="11.92" fill="#3c3c9e"/>
<rect x="195.08" y="341.48" width="13.27" height="11.92" fill="#9797cb"/>
<rect x="208.05" y="341.48" width="13.27" height="11.92" fill="#7d7dbe"/>
<rect x="221.02" y="341.48" width="13.27" height="11.92" fill="#8f8fc7"/>
<rect x="233.99" y="341.48" width="13.27" height="11.92" fill="#a4a4d2"/>
<rect x="246.96" y="341.48" width="13.27" height="11.92" fill="#8787c3"/>
<rect x="259.93" y="341.48" width="13.27" height="11.92" fill="#c1c1e0"/>
<rect x="272.90" y="341.48" width="13.27" height="11.92" fill="#cacae5"/>
<rect x="285.87" y="341.48" width="13.27" height="11.92" fill="#efeff7"/>
<rect x="298.84" y="341.48" width="13.27" height="11.92" fill="#d6d6eb"/>
<rect x="311.81" y="341.48" width="13.27" height="11.92" fill="#8787c3"/>
<rect x="324.78" y="341.48" width="13.27" height="11.92" fill="#4b4ba5"/>
<rect x="337.75" y="341.48" width="13.27" height="11.92" fill="#8787c3"/>
<rect x="350.72" y="341.48" width="13.27" height="11.92" fill="#a4a4d2"/>
<rect x="363.69" y="341.48" width="13.27" height="11.92" fill="#b7b7db"/>
<rect x="376.66" y="341.48" width="13.27" height="11.92" fill="#ebebf5"/>
<rect x="389.63" y="341.48" width="13.27" height="11.92" fill="#ffba8e"/>
<rect x="402.60" y="341.48" width="13.27" height="11.92" fill="#c1c1e0"/>
<rect x="415.57" y="341.48" width="13.27" height="11.92" fill="#ffe0cb"/>
<rect x="428.54" y="341.48" width="13.27" height="11.92" fill="#8f8fc7"/>
<rect x="441.51" y="341.48" width="13.27" height="11.92" fill="#d6d6eb"/>
<rect x="454.48" y="341.48" width="13.27" height="11.92" fill="#b7b7db"/>
<rect x="467.45" y="341.48" width="13.27" height="11.92" fill="#d6d6eb"/>
<rect x="480.42" y="341.48" width="13.27" height="11.92" fill="#ffcaa8"/>
<rect x="493.39" y="341.48" width="13.27" height="11.92" fill="#ffcaa8"/>
<rect x="506.36" y="341.48" width="13.27" height="11.92" fill="#f5f5fa"/>
<rect x="519.33" y="341.48" width="13.27" height="11.92" fill="#ff0000"/>
<rect x="143.20" y="353.10" width="13.27" height="11.92" fill="#232391"/>
<rect x="156.17" y="353.10" width="13.27" height="11.92" fill="#14148a"/>
<rect x="169.14" y="353.10" width="13.27" height="11.92" fill="#323299"/>
<rect x="182.11" y="353.10" width="13.27" height="11.92" fill="#323299"/>
<rect x="195.08" y="353.10" width="13.27" height="11.92" fill="#232391"/>
<rect x="208.05" y="353.10" width="13.27" height="11.92" fill="#3c3c9e"/>
<rect x="221.02" y="353.10" width="13.27" height="11.92" fill="#3c3c9e"/>
<rect x="233.99" y="353.10" width="13.27" height="11.92" fill="#030382"/>
<rect x="246.96" y="353.10" width="13.27" height="11.92" fill="#4b4ba5"/>
<rect x="259.93" y="353.10" width="13.27" height="11.92" fill="#9797cb"/>
<rect x="272.90" y="353.10" width="13.27" height="11.92" fill="#5555aa"/>
<rect x="285.87" y="353.10" width="13.27" height="11.92" fill="#3c3c9e"/>
<rect x="298.84" y="353.10" width="13.27" height="11.92" fill="#8282c1"/>
<rect x="311.81" y="353.10" width="13.27" height="11.92" fill="#d1d1e8"/>
<rect x="324.78" y="353.10" width="13.27" height="11.92" fill="#6e6eb7"/>
<rect x="337.75" y="353.10" width="13.27" height="11.92" fill="#7d7dbe"/>
<rect x="350.72" y="353.10" width="13.27" height="11.92" fill="#b7b7db"/>
<rect x="363.69" y="353.10" width="13.27" height="11.92" fill="#d6d6eb"/>
<rect x="376.66" y="353.10" width="13.27" height="11.92" fill="#e6e6f2"/>
<rect x="389.63" y="353.10" width="13.27" height="11.92" fill="#ebebf5"/>
<rect x="402.60" y="353.10" width="13.27" height="11.92" fill="#dedeee"/>
<rect x="415.57" y="353.10" width="13.27" height="11.92" fill="#a0a0d0"/>
<rect x="428.54" y="353.10" width="13.27" height="11.92" fill="#ebebf5"/>
<rect x="441.51" y="353.10" width="13.27" height="11.92" fill="#fff9f5"/>
<rect x="454.48" y="353.10" width="13.27" height="11.92" fill="#dedeee"/>
<rect x="467.45" y="353.10" width="13.27" height="11.92" fill="#b7b7db"/>
<rect x="480.42" y="353.10" width="13.27" height="11.92" fill="#ffd9c0"/>
<rect x="493.39" y="353.10" width="13.27" height="11.92" fill="#ffcaa8"/>
<rect x="506.36" y="353.10" width="13.27" height="11.92" fill="#ff9f62"/>
<rect x="519.33" y="353.10" width="13.27" height="11.92" fill="#ff9959"/>
<rect x="532.30" y="353.10" width="13.27" height="11.92" fill="#ff0000"/>
</g>
<path d="M156.17 4.80 L156.17 16.12 L169.14 16.12 L169.14 27.74 L182.11 27.74 L182.11 39.36 L195.08 39.36 L195.08 50.98 L195.08 364.72 L143.20 364.72 L143.20 4.80" fill="none" stroke="#000" stroke-width="1.15" stroke-linejoin="miter"/>
<path d="M143.20 4.90 H156.17" fill="none" stroke="#500" stroke-width="0.5"/>
<text x="136.6" y="13.71" font-size="9.33" text-anchor="end">Last FCR 1</text>
<text x="136.6" y="25.33" font-size="9.33" text-anchor="end">Last FCR 2</text>
<text x="136.6" y="36.95" font-size="9.33" text-anchor="end">Mean FCR 1</text>
<text x="136.6" y="48.57" font-size="9.33" text-anchor="end">Mean FCR 2</text>
<text x="136.6" y="60.19" font-size="9.33" text-anchor="end">Acetylglutamic acid (liver)</text>
<text x="136.6" y="71.81" font-size="9.33" text-anchor="end">Quinazoline (liver)</text>
<text x="136.6" y="83.43" font-size="9.33" text-anchor="end">x8993_asv</text>
<text x="136.6" y="95.05" font-size="9.33" text-anchor="end">Glycerol (muscle)</text>
<text x="136.6" y="106.67" font-size="9.33" text-anchor="end">ed55c_asv</text>
<text x="136.6" y="118.29" font-size="9.33" text-anchor="end">Galactose (liver)</text>
<text x="136.6" y="129.91" font-size="9.33" text-anchor="end">x2846_asv</text>
<text x="136.6" y="141.53" font-size="9.33" text-anchor="end">Talopyranose (plasma)</text>
<text x="136.6" y="153.15" font-size="9.33" text-anchor="end">Hydroxyphenylacetic acid (plasma)</text>
<text x="136.6" y="164.77" font-size="9.33" text-anchor="end">Nervonic acid (WB lipids)</text>
<text x="136.6" y="176.39" font-size="9.33" text-anchor="end">Unknown Metab 135 (liver)</text>
<text x="136.6" y="188.01" font-size="9.33" text-anchor="end">Unknown Metab 088 (plasma)</text>
<text x="136.6" y="199.63" font-size="9.33" text-anchor="end">Hepatosomatic Index</text>
<text x="136.6" y="211.25" font-size="9.33" text-anchor="end">Moisture content (WB wet chem)</text>
<text x="136.6" y="222.87" font-size="9.33" text-anchor="end">Moisture content (WB NIR)</text>
<text x="136.6" y="234.49" font-size="9.33" text-anchor="end">Formaldehyde (plasma)</text>
<text x="136.6" y="246.11" font-size="9.33" text-anchor="end">Faecal Appearance Score</text>
<text x="136.6" y="257.73" font-size="9.33" text-anchor="end">Blood haematocrit</text>
<text x="136.6" y="269.35" font-size="9.33" text-anchor="end">4-hydroxybenzene-SO<tspan font-size="6.4" dy="1.8">4</tspan><tspan dy="-1.8"> </tspan>(muscle)</text>
<text x="136.6" y="280.97" font-size="9.33" text-anchor="end">Visceral Fat Score</text>
<text x="136.6" y="292.59" font-size="9.33" text-anchor="end">Calcium (WB)</text>
<text x="136.6" y="304.21" font-size="9.33" text-anchor="end">Cholesterol (plasma)</text>
<text x="136.6" y="315.83" font-size="9.33" text-anchor="end">Unknown Metab 081 (muscle)</text>
<text x="136.6" y="327.45" font-size="9.33" text-anchor="end">Energy content (WB NIR)</text>
<text x="136.6" y="339.07" font-size="9.33" text-anchor="end">Unknown Metab 59 (liver)</text>
<text x="136.6" y="350.69" font-size="9.33" text-anchor="end">Blood haemoglobin</text>
<text x="136.6" y="362.31" font-size="9.33" text-anchor="end">Palmitic acid (WB lipids)</text>
<text transform="translate(153.90 375.22) rotate(-45)" font-size="9.2" text-anchor="end">Last FCR 1</text>
<text transform="translate(166.80 375.22) rotate(-45)" font-size="9.2" text-anchor="end">Last FCR 2</text>
<text transform="translate(179.71 375.22) rotate(-45)" font-size="9.2" text-anchor="end">Mean FCR 1</text>
<text transform="translate(192.61 375.22) rotate(-45)" font-size="9.2" text-anchor="end">Mean FCR 2</text>
<text transform="translate(205.52 375.22) rotate(-45)" font-size="9.2" text-anchor="end">Acetylglutamic acid (liver)</text>
<text transform="translate(218.42 375.22) rotate(-45)" font-size="9.2" text-anchor="end">Quinazoline (liver)</text>
<text transform="translate(231.32 375.22) rotate(-45)" font-size="9.2" text-anchor="end">x8993_asv</text>
<text transform="translate(244.23 375.22) rotate(-45)" font-size="9.2" text-anchor="end">Glycerol (muscle)</text>
<text transform="translate(257.13 375.22) rotate(-45)" font-size="9.2" text-anchor="end">ed55c_asv</text>
<text transform="translate(270.04 375.22) rotate(-45)" font-size="9.2" text-anchor="end">Galactose (liver)</text>
<text transform="translate(282.94 375.22) rotate(-45)" font-size="9.2" text-anchor="end">x2846_asv</text>
<text transform="translate(295.84 375.22) rotate(-45)" font-size="9.2" text-anchor="end">Talopyranose (plasma)</text>
<text transform="translate(308.75 375.22) rotate(-45)" font-size="9.2" text-anchor="end">Hydroxyphenylacetic acid (plasma)</text>
<text transform="translate(321.65 375.22) rotate(-45)" font-size="9.2" text-anchor="end">Nervonic acid (WB lipids)</text>
<text transform="translate(334.56 375.22) rotate(-45)" font-size="9.2" text-anchor="end">Unknown Metab 135 (liver)</text>
<text transform="translate(347.46 375.22) rotate(-45)" font-size="9.2" text-anchor="end">Unknown Metab 088 (plasma)</text>
<text transform="translate(360.36 375.22) rotate(-45)" font-size="9.2" text-anchor="end">Hepatosomatic Index</text>
<text transform="translate(373.27 375.22) rotate(-45)" font-size="9.2" text-anchor="end">Moisture content (WB wet chem)</text>
<text transform="translate(386.17 375.22) rotate(-45)" font-size="9.2" text-anchor="end">Moisture Content (WB NIR)</text>
<text transform="translate(399.08 375.22) rotate(-45)" font-size="9.2" text-anchor="end">Formaldehyde (plasma)</text>
<text transform="translate(411.98 375.22) rotate(-45)" font-size="9.2" text-anchor="end">Faecal Appearance Score</text>
<text transform="translate(424.88 375.22) rotate(-45)" font-size="9.2" text-anchor="end">Blood haematocrit</text>
<text transform="translate(437.79 375.22) rotate(-45)" font-size="9.2" text-anchor="end">4-hydroxybenzene-SO4 (muscle)</text>
<text transform="translate(450.69 375.22) rotate(-45)" font-size="9.2" text-anchor="end">Visceral Fat Score</text>
<text transform="translate(463.60 375.22) rotate(-45)" font-size="9.2" text-anchor="end">Calcium (WB)</text>
<text transform="translate(476.50 375.22) rotate(-45)" font-size="9.2" text-anchor="end">Cholesterol (plasma)</text>
<text transform="translate(489.40 375.22) rotate(-45)" font-size="9.2" text-anchor="end">Unknown Metab 081 (muscle)</text>
<text transform="translate(502.31 375.22) rotate(-45)" font-size="9.2" text-anchor="end">Energy content (WB NIR)</text>
<text transform="translate(515.21 375.22) rotate(-45)" font-size="9.2" text-anchor="end">Unknown Metab 59 (liver)</text>
<text transform="translate(528.12 375.22) rotate(-45)" font-size="9.2" text-anchor="end">Blood haemoglobin</text>
<text transform="translate(541.02 375.22) rotate(-45)" font-size="9.2" text-anchor="end">Palmitic acid (WB lipids)</text>
<rect x="354.4" y="63.1" width="109.5" height="12" fill="url(#cb)" stroke="#4a6fb0" stroke-width="0.8"/>
<text x="410.5" y="48.2" font-size="9.65" text-anchor="middle">Pearson</text>
<text x="410.5" y="59.8" font-size="9.65" text-anchor="middle">Correlation</text>
<text x="353.20" y="86.6" font-size="9.65" text-anchor="middle">−1.0</text>
<text x="379.10" y="86.6" font-size="9.65" text-anchor="middle">−0.5</text>
<text x="407.30" y="86.6" font-size="9.65" text-anchor="middle">0.0</text>
<text x="432.30" y="86.6" font-size="9.65" text-anchor="middle">0.5</text>
<text x="459.80" y="86.6" font-size="9.65" text-anchor="middle">1.0</text>
</svg></body></html>
